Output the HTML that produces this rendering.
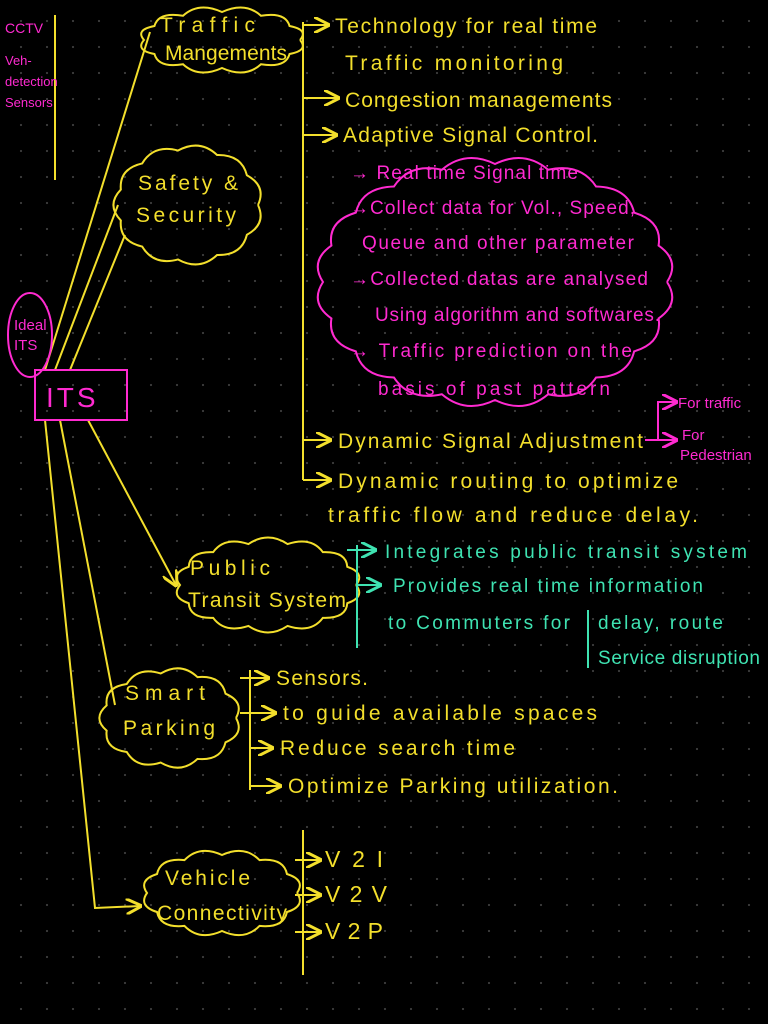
<!DOCTYPE html>
<html><head><meta charset="utf-8"><style>
html,body{margin:0;padding:0;background:#000;}
body{width:768px;height:1024px;overflow:hidden;background-color:#000;
background-image:radial-gradient(circle,#3a3a3a 1px,transparent 1.3px);background-size:26px 26px;background-position:8px 8px;}
svg{position:absolute;left:0;top:0}
text{font-family:"Liberation Sans",sans-serif;}
.y{fill:#f3df2c}.m{fill:#ff2ad0}.t{fill:#3fe3b2}
</style></head><body>
<svg id="s" width="768" height="1024" viewBox="0 0 768 1024">
<defs>
<marker id="ay" markerWidth="8" markerHeight="8" refX="7" refY="4" orient="auto"><path d="M0,0 L8,4 L0,8" fill="none" stroke="#f3df2c" stroke-width="1.5"/></marker>
<marker id="at" markerWidth="8" markerHeight="8" refX="7" refY="4" orient="auto"><path d="M0,0 L8,4 L0,8" fill="none" stroke="#3fe3b2" stroke-width="1.5"/></marker>
<marker id="am" markerWidth="8" markerHeight="8" refX="7" refY="4" orient="auto"><path d="M0,0 L8,4 L0,8" fill="none" stroke="#ff2ad0" stroke-width="1.5"/></marker>
</defs>
<g id="clouds" fill="none" stroke-width="2"></g>
<g stroke="#f3df2c" stroke-width="2" fill="none">
<line x1="55" y1="15" x2="55" y2="180"/>
<line x1="45" y1="370" x2="150" y2="32"/>
<line x1="55" y1="370" x2="118" y2="205"/>
<line x1="70" y1="370" x2="125" y2="235"/>
<line x1="88" y1="420" x2="176" y2="585" marker-end="url(#ay)"/>
<line x1="60" y1="420" x2="115" y2="705"/>
<polyline points="45,420 95,908 140,906" marker-end="url(#ay)"/>
<line x1="303" y1="22" x2="303" y2="480"/>
<line x1="303" y1="25" x2="328" y2="25" marker-end="url(#ay)"/>
<line x1="303" y1="98" x2="338" y2="98" marker-end="url(#ay)"/>
<line x1="303" y1="135" x2="336" y2="135" marker-end="url(#ay)"/>
<line x1="303" y1="440" x2="330" y2="440" marker-end="url(#ay)"/>
<line x1="303" y1="480" x2="330" y2="480" marker-end="url(#ay)"/>
<line x1="250" y1="670" x2="250" y2="790"/>
<line x1="240" y1="678" x2="268" y2="678" marker-end="url(#ay)"/>
<line x1="240" y1="713" x2="275" y2="713" marker-end="url(#ay)"/>
<line x1="250" y1="748" x2="272" y2="748" marker-end="url(#ay)"/>
<line x1="250" y1="786" x2="280" y2="786" marker-end="url(#ay)"/>
<line x1="303" y1="830" x2="303" y2="975"/>
<line x1="295" y1="860" x2="320" y2="860" marker-end="url(#ay)"/>
<line x1="295" y1="895" x2="320" y2="895" marker-end="url(#ay)"/>
<line x1="295" y1="932" x2="320" y2="932" marker-end="url(#ay)"/>
</g>
<g stroke="#ff2ad0" stroke-width="2" fill="none">
<line x1="645" y1="440" x2="676" y2="440" marker-end="url(#am)"/>
<polyline points="658,440 658,402 676,402" marker-end="url(#am)"/>
<rect x="35" y="370" width="92" height="50"/>
<ellipse cx="30" cy="335" rx="22" ry="42"/>
</g>
<g stroke="#3fe3b2" stroke-width="2" fill="none">
<line x1="357" y1="545" x2="357" y2="648"/>
<line x1="347" y1="550" x2="375" y2="550" marker-end="url(#at)"/>
<line x1="357" y1="585" x2="380" y2="585" marker-end="url(#at)"/>
<line x1="588" y1="610" x2="588" y2="668"/>
</g>
<g class="m" font-size="14">
<text x="5" y="33">CCTV</text>
<text x="5" y="65" font-size="13">Veh-</text>
<text x="5" y="86" font-size="13">detection</text>
<text x="5" y="107" font-size="13">Sensors</text>
<text x="14" y="330" font-size="15">Ideal</text>
<text x="14" y="350" font-size="15">ITS</text>
<text x="46" y="407" font-size="28" letter-spacing="3">ITS</text>
<text x="678" y="408" font-size="15">For traffic</text>
<text x="682" y="440" font-size="15">For</text>
<text x="680" y="460" font-size="15">Pedestrian</text>
</g>
<g class="m" font-size="19">
<text x="350" y="179" textLength="228">→ Real time Signal time</text>
<text x="350" y="214" textLength="285">→Collect data for Vol., Speed,</text>
<text x="362" y="249" textLength="272">Queue and other parameter</text>
<text x="350" y="285" textLength="298">→Collected datas are analysed</text>
<text x="375" y="321" textLength="285">Using algorithm and softwares.</text>
<text x="350" y="357" textLength="282">→ Traffic prediction on the</text>
<text x="378" y="395" textLength="232">basis of past pattern</text>
</g>
<g class="y" font-size="21">
<text x="160" y="32" textLength="95">Traffic</text>
<text x="165" y="60" textLength="122">Mangements</text>
<text x="138" y="190" textLength="100">Safety &amp;</text>
<text x="136" y="222" textLength="100">Security</text>
<text x="190" y="575" textLength="80">Public</text>
<text x="188" y="607" textLength="158">Transit System</text>
<text x="125" y="700" textLength="80">Smart</text>
<text x="123" y="735" textLength="92">Parking</text>
<text x="165" y="885" textLength="85">Vehicle</text>
<text x="157" y="920" textLength="130">Connectivity</text>
<text x="335" y="33" textLength="262">Technology for real time</text>
<text x="345" y="70" textLength="218">Traffic monitoring</text>
<text x="345" y="107" textLength="267">Congestion managements</text>
<text x="343" y="142" textLength="255">Adaptive Signal Control.</text>
<text x="338" y="448" textLength="305">Dynamic Signal Adjustment</text>
<text x="338" y="488" textLength="340">Dynamic routing to optimize</text>
<text x="328" y="522" textLength="370">traffic flow and reduce delay.</text>
<text x="276" y="685" textLength="92">Sensors.</text>
<text x="283" y="720" textLength="314">to guide available spaces</text>
<text x="280" y="755" textLength="235">Reduce search time</text>
<text x="288" y="793" textLength="330">Optimize Parking utilization.</text>
<text x="325" y="867" font-size="23" textLength="58">V2I</text>
<text x="325" y="902" font-size="23" textLength="62">V2V</text>
<text x="325" y="939" font-size="23" textLength="58">V2P</text>
</g>
<g class="t" font-size="19">
<text x="385" y="558" textLength="362">Integrates public transit system</text>
<text x="393" y="592" textLength="310">Provides real time information</text>
<text x="388" y="629" textLength="182">to Commuters for</text>
<text x="598" y="629" textLength="125">delay, route</text>
<text x="598" y="664" textLength="162">Service disruption</text>
</g>
</svg>
<script>
function cloud(cx,cy,rx,ry,n,col,amp){
 var d="",pts=[];
 for(var i=0;i<=n;i++){var a=i/n*2*Math.PI;pts.push([cx+rx*Math.cos(a),cy+ry*Math.sin(a)]);}
 d="M"+pts[0][0]+","+pts[0][1];
 for(var i=1;i<=n;i++){var a=(i-0.5)/n*2*Math.PI;var qx=cx+(rx+amp)*Math.cos(a),qy=cy+(ry+amp)*Math.sin(a);d+=" Q"+qx+","+qy+" "+pts[i][0]+","+pts[i][1];}
 var p=document.createElementNS("http://www.w3.org/2000/svg","path");
 p.setAttribute("d",d);p.setAttribute("stroke",col);
 document.getElementById("clouds").appendChild(p);
}
var Y="#f3df2c";
cloud(222,40,78,28,12,Y,12);
cloud(188,205,70,55,11,Y,12);
cloud(268,585,88,42,14,Y,12);
cloud(170,718,66,45,11,Y,12);
cloud(222,893,75,38,12,Y,12);
cloud(495,282,172,118,20,"#ff2ad0",16);
</script>
</body></html>
